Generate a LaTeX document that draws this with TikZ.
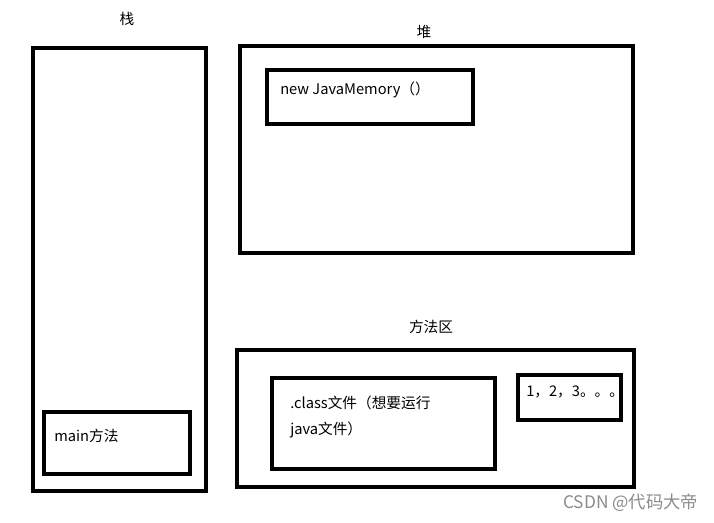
\documentclass[tikz,border=0pt]{standalone}
\usepackage{fontspec}
\setmainfont{Noto Sans CJK SC}
\tikzset{
  box/.style={line width=3pt},
  title/.style={font=\fontsize{11}{13}\selectfont},
  txt/.style={anchor=west, inner sep=0pt, font=\fontsize{11}{13}\selectfont}
}
\begin{document}
\begin{tikzpicture}[x=0.75pt,y=-0.75pt]
  \useasboundingbox[fill=white] (0,0) rectangle (714,522);
  % stack
  \node[title] (stacktitle) at (127,19) {栈};
  \draw[box] (33,48) rectangle (206,491);
  \draw[box] (44,412) rectangle (190,474);
  \node[txt] (mainm) at (54,436) {main方法};
  % heap
  \node[title] (heaptitle) at (424,32) {堆};
  \draw[box] (240,46) rectangle (633,253);
  \draw[box] (267,70) rectangle (473,124);
  \node[txt] (newobj) at (280,90) {new JavaMemory（）};
  % method area
  \node[title] (methtitle) at (431,327) {方法区};
  \draw[box] (237,350) rectangle (634,487);
  \draw[box] (272,378) rectangle (495,469);
  \node[txt] (cls1) at (290,403) {.class文件（想要运行};
  \node[txt] (cls2) at (290,430) {java文件）};
  \draw[box] (518,375) rectangle (621,420);
  \node[txt] (consts) at (526,392) {1，2，3。。。};
  % watermark
  \node[txt, text=black!45, font=\fontsize{13}{15}\selectfont] (mark) at (563,503) {CSDN @代码大帝};
\end{tikzpicture}
\end{document}
